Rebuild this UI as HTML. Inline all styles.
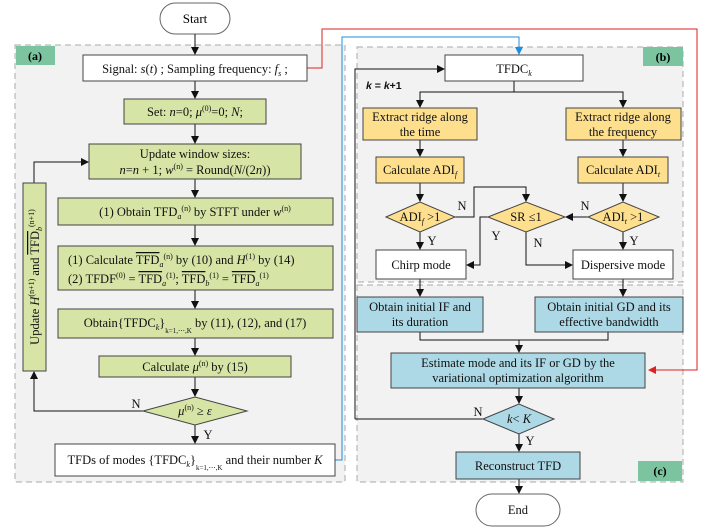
<!DOCTYPE html>
<html><head><meta charset="utf-8"><style>
html,body{margin:0;padding:0;background:#fff;}
svg{display:block;font-family:"Liberation Serif",serif;}
.ol{text-decoration:overline;}
</style></head><body>
<svg width="720" height="531" viewBox="0 0 720 531" xmlns="http://www.w3.org/2000/svg">
<defs>
<marker id="a" markerWidth="8" markerHeight="8" refX="7" refY="4" orient="auto" markerUnits="userSpaceOnUse"><path d="M0,0 L8,4 L0,8 Z" fill="#111"/></marker>
<marker id="ab" markerWidth="8" markerHeight="8" refX="7" refY="4" orient="auto" markerUnits="userSpaceOnUse"><path d="M0,0 L8,4 L0,8 Z" fill="#1a8fe0"/></marker>
<marker id="ar" markerWidth="8" markerHeight="8" refX="7" refY="4" orient="auto" markerUnits="userSpaceOnUse"><path d="M0,0 L8,4 L0,8 Z" fill="#d22"/></marker>
</defs>
<rect x="15" y="45" width="330" height="437" fill="#f2f2f2" stroke="#aaa" stroke-dasharray="6,4"/>
<rect x="357" y="47" width="326" height="235" fill="#f2f2f2" stroke="#aaa" stroke-dasharray="6,4"/>
<rect x="357" y="285" width="326" height="197" fill="#f2f2f2" stroke="#aaa" stroke-dasharray="6,4"/>
<rect x="16" y="46" width="39" height="19" fill="#7cc4a0"/>
<text x="35" y="60" font-size="12" font-weight="bold" text-anchor="middle">(a)</text>
<rect x="643" y="47" width="40" height="19" fill="#7cc4a0"/>
<text x="663" y="61" font-size="12" font-weight="bold" text-anchor="middle">(b)</text>
<rect x="638" y="461" width="44" height="20" fill="#7cc4a0"/>
<text x="660" y="475" font-size="12" font-weight="bold" text-anchor="middle">(c)</text>

<g fill="none" stroke-width="1">
<path d="M307,68 H322 V29 H697 V370 H649" stroke="#d22" marker-end="url(#ar)"/>
<path d="M335,460 H342 V37 H519 V54" stroke="#1a8fe0" marker-end="url(#ab)"/>
</g>

<rect x="160" y="3" width="70" height="31" rx="15.5" fill="#fff" stroke="#666"/>
<text x="195" y="23" font-size="13" text-anchor="middle">Start</text>

<g stroke="#111" fill="none">
<path d="M195,34 V54" marker-end="url(#a)"/>
<path d="M195,81 V98" marker-end="url(#a)"/>
<path d="M195,124 V143" marker-end="url(#a)"/>
<path d="M195,179 V197" marker-end="url(#a)"/>
<path d="M195,225 V245" marker-end="url(#a)"/>
<path d="M195,290 V308" marker-end="url(#a)"/>
<path d="M195,338 V355" marker-end="url(#a)"/>
<path d="M195,377 V396" marker-end="url(#a)"/>
<path d="M195,425 V443" marker-end="url(#a)"/>
<path d="M143,411 H34 V372" marker-end="url(#a)"/>
<path d="M34,183 V162 H88" marker-end="url(#a)"/>
</g>

<g stroke="#444" stroke-width="1">
<rect x="83" y="55" width="224" height="26" fill="#fff"/>
<rect x="124" y="99" width="142" height="25" fill="#d6e5a5"/>
<rect x="89" y="144" width="212" height="35" fill="#d6e5a5"/>
<rect x="58" y="198" width="275" height="27" fill="#d6e5a5"/>
<rect x="58" y="246" width="275" height="44" fill="#d6e5a5"/>
<rect x="58" y="309" width="275" height="29" fill="#d6e5a5"/>
<rect x="99" y="356" width="192" height="21" fill="#d6e5a5"/>
<polygon points="143,411 195,397 247,411 195,425" fill="#d6e5a5"/>
<rect x="55" y="444" width="280" height="32" fill="#fff"/>
<rect x="23" y="183" width="23" height="188" fill="#d6e5a5"/>
</g>
<g font-size="12.5" text-anchor="middle" fill="#111">
<text x="195" y="73">Signal: <tspan font-style="italic">s</tspan>(<tspan font-style="italic">t</tspan>) ; Sampling frequency: <tspan font-style="italic">f<tspan font-size="8" dy="3">s</tspan></tspan><tspan dy="-3"> ;</tspan></text>
<text x="195" y="116">Set: <tspan font-style="italic">n</tspan>=0; <tspan font-style="italic">μ</tspan><tspan font-size="8" dy="-5">(0)</tspan><tspan dy="5">=0; </tspan><tspan font-style="italic">N</tspan>;</text>
<text x="195" y="158">Update window sizes:</text>
<text x="195" y="174"><tspan font-style="italic">n</tspan>=<tspan font-style="italic">n</tspan> + 1; <tspan font-style="italic">w</tspan><tspan font-size="8" dy="-5">(n)</tspan><tspan dy="5"> = Round(</tspan><tspan font-style="italic">N</tspan>/(2<tspan font-style="italic">n</tspan>))</text>
<text x="195" y="216">(1) Obtain TFD<tspan font-size="8" dy="3" font-style="italic">a</tspan><tspan font-size="8" dy="-8">(n)</tspan><tspan dy="5"> by STFT under </tspan><tspan font-style="italic">w</tspan><tspan font-size="8" dy="-5">(n)</tspan></text>
<text x="68" y="264" text-anchor="start">(1) Calculate <tspan class="ol">TFD</tspan><tspan font-size="8" dy="3" font-style="italic">a</tspan><tspan font-size="8" dy="-8">(n)</tspan><tspan dy="5"> by (10) and  </tspan><tspan font-style="italic">H</tspan><tspan font-size="8" dy="-5">(1)</tspan><tspan dy="5">  by (14)</tspan></text>
<text x="68" y="283" text-anchor="start">(2)  TFDF<tspan font-size="8" dy="-5">(0)</tspan><tspan dy="5"> = </tspan><tspan class="ol">TFD</tspan><tspan font-size="8" dy="3" font-style="italic">a</tspan><tspan font-size="8" dy="-8">(1)</tspan><tspan dy="5">; </tspan><tspan class="ol">TFD</tspan><tspan font-size="8" dy="3" font-style="italic">b</tspan><tspan font-size="8" dy="-8">(1)</tspan><tspan dy="5"> = </tspan><tspan class="ol">TFD</tspan><tspan font-size="8" dy="3" font-style="italic">a</tspan><tspan font-size="8" dy="-8">(1)</tspan></text>
<text x="195" y="327">Obtain{TFDC<tspan font-size="8" dy="3" font-style="italic">k</tspan><tspan dy="-3">}</tspan><tspan font-size="7" dy="6">k=1,⋯,K</tspan><tspan dy="-6"> by (11), (12), and (17)</tspan></text>
<text x="195" y="371">Calculate  <tspan font-style="italic">μ</tspan><tspan font-size="8" dy="-5">(n)</tspan><tspan dy="5"> by (15)</tspan></text>
<text x="195" y="415"><tspan font-style="italic">μ</tspan><tspan font-size="8" dy="-5">(n)</tspan><tspan dy="5"> ≥ </tspan><tspan font-style="italic">ε</tspan></text>
<text x="195" y="464">TFDs of modes {TFDC<tspan font-size="8" dy="3" font-style="italic">k</tspan><tspan dy="-3">}</tspan><tspan font-size="7" dy="6">k=1,⋯,K</tspan><tspan dy="-6">  and their number </tspan><tspan font-style="italic">K</tspan></text>
<text x="136" y="408">N</text>
<text x="208" y="439">Y</text>
<text transform="translate(39,277) rotate(-90)">Update <tspan font-style="italic">H</tspan><tspan font-size="8" dy="-5">(n+1)</tspan><tspan dy="5"> and </tspan><tspan class="ol">TFD</tspan><tspan font-size="8" dy="3" font-style="italic">b</tspan><tspan font-size="8" dy="-8">(n+1)</tspan></text>
</g>

<g stroke="#111" fill="none">
<path d="M355,419 H355 V69 H444" marker-end="url(#a)"/>
<path d="M355,419 H483"/>
<path d="M514,81 V92 M420,107 V92 H623 V107" />
<path d="M420,99 V107" marker-end="url(#a)"/>
<path d="M623,99 V107" marker-end="url(#a)"/>
<path d="M420,140 V156" marker-end="url(#a)"/>
<path d="M623,140 V156" marker-end="url(#a)"/>
<path d="M420,183 V201" marker-end="url(#a)"/>
<path d="M623,183 V201" marker-end="url(#a)"/>
<path d="M420,232 V249" marker-end="url(#a)"/>
<path d="M623,232 V249" marker-end="url(#a)"/>
<path d="M455,217 H474 V187 H526 V201" marker-end="url(#a)"/>
<path d="M588,217 H566" marker-end="url(#a)"/>
<path d="M488,217 H480 V265 H467" marker-end="url(#a)"/>
<path d="M526,232 V265 H572" marker-end="url(#a)"/>
<path d="M420,279 V296" marker-end="url(#a)"/>
<path d="M623,279 V296" marker-end="url(#a)"/>
<path d="M420,332 V340 H608 V332 M519,340 V352" marker-end="url(#a)"/>
<path d="M519,388 V403" marker-end="url(#a)"/>
<path d="M519,434 V451" marker-end="url(#a)"/>
<path d="M519,479 V493" marker-end="url(#a)"/>
</g>
<g stroke="#444">
<rect x="445" y="55" width="138" height="26" fill="#fff"/>
<rect x="363" y="108" width="114" height="32" fill="#fddf8e"/>
<rect x="566" y="108" width="115" height="32" fill="#fddf8e"/>
<rect x="376" y="157" width="88" height="26" fill="#fddf8e"/>
<rect x="578" y="157" width="90" height="26" fill="#fddf8e"/>
<polygon points="386,217 420,202 455,217 420,232" fill="#fddf8e"/>
<polygon points="488,217 526,202 565,217 526,232" fill="#fddf8e"/>
<polygon points="588,217 623,202 659,217 623,232" fill="#fddf8e"/>
<rect x="376" y="250" width="90" height="29" fill="#fff"/>
<rect x="573" y="250" width="100" height="29" fill="#fff"/>
<rect x="357" y="297" width="126" height="35" fill="#add8e6"/>
<rect x="535" y="297" width="148" height="35" fill="#add8e6"/>
<rect x="391" y="353" width="254" height="35" fill="#add8e6"/>
<polygon points="483,419 519,404 554,419 519,434" fill="#add8e6"/>
<rect x="456" y="452" width="124" height="27" fill="#add8e6"/>
<rect x="476" y="494" width="84" height="32" rx="16" fill="#fff" stroke="#666"/>
</g>
<g font-size="12.5" text-anchor="middle" fill="#111">
<text x="514" y="73">TFDC<tspan font-size="8" dy="3" font-style="italic">k</tspan></text>
<text x="366" y="89" text-anchor="start" font-family="Liberation Sans,sans-serif" font-weight="bold" font-size="10.5"><tspan font-style="italic">k</tspan> = <tspan font-style="italic">k</tspan>+1</text>
<text x="420" y="121">Extract ridge along</text>
<text x="420" y="136">the time</text>
<text x="623" y="121">Extract ridge along</text>
<text x="623" y="136">the  frequency</text>
<text x="420" y="174">Calculate ADI<tspan font-size="8" dy="3" font-style="italic">f</tspan></text>
<text x="623" y="174">Calculate ADI<tspan font-size="8" dy="3" font-style="italic">t</tspan></text>
<text x="420" y="221">ADI<tspan font-size="8" dy="3" font-style="italic">f</tspan><tspan dy="-3"> &gt;1</tspan></text>
<text x="526" y="221">SR ≤1</text>
<text x="623" y="221">ADI<tspan font-size="8" dy="3" font-style="italic">t</tspan><tspan dy="-3"> &gt;1</tspan></text>
<text x="462" y="210">N</text>
<text x="585" y="210">N</text>
<text x="496" y="240">Y</text>
<text x="538" y="247">N</text>
<text x="432" y="245">Y</text>
<text x="634" y="245">Y</text>
<text x="421" y="269">Chirp mode</text>
<text x="623" y="269">Dispersive mode</text>
<text x="420" y="311">Obtain initial IF and</text>
<text x="420" y="326">its duration</text>
<text x="609" y="311">Obtain initial GD and its</text>
<text x="609" y="326">effective bandwidth</text>
<text x="518" y="367">Estimate mode and its IF or GD by the</text>
<text x="518" y="382">variational optimization algorithm</text>
<text x="519" y="423"><tspan font-style="italic">k</tspan>&lt; <tspan font-style="italic">K</tspan></text>
<text x="478" y="416">N</text>
<text x="530" y="445">Y</text>
<text x="518" y="470">Reconstruct TFD</text>
<text x="518" y="514">End</text>
</g>
</svg>
</body></html>
